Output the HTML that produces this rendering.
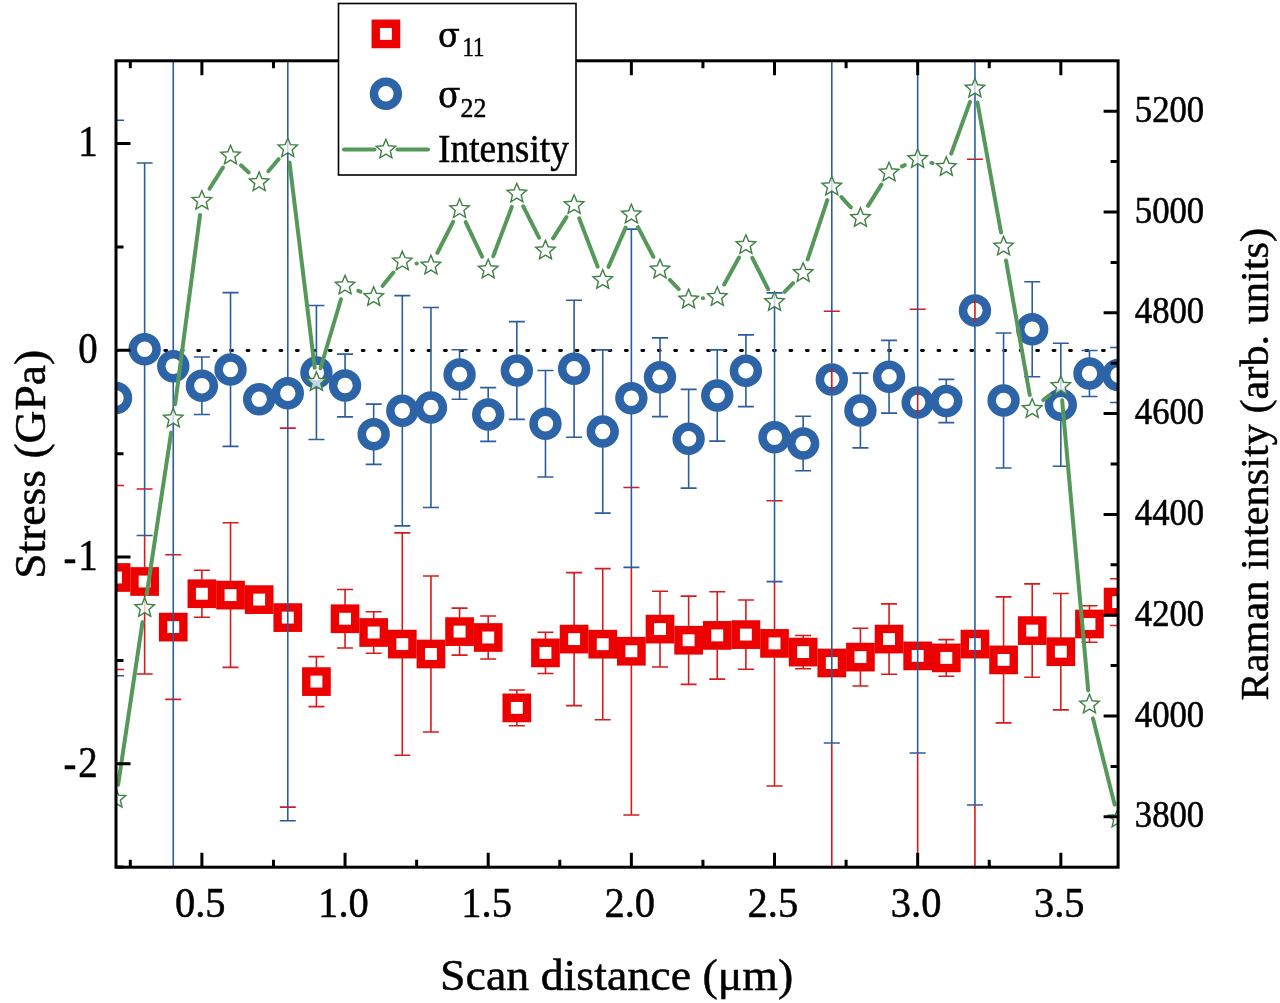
<!DOCTYPE html>
<html><head><meta charset="utf-8"><title>Stress and Raman intensity vs scan distance</title>
<style>html,body{margin:0;padding:0;background:#fff;}body{width:1280px;height:1003px;overflow:hidden;}svg{display:block;}text{font-family:"Liberation Serif","Times New Roman",serif;fill:#000;stroke:#000;stroke-width:0.5px;}</style>
</head><body>
<svg width="1280" height="1003" viewBox="0 0 1280 1003">
<defs><clipPath id="pa"><rect x="116.0" y="60.8" width="1002.10" height="806.40"/></clipPath></defs>
<rect x="0" y="0" width="1280" height="1003" fill="#fff"/>
<g clip-path="url(#pa)">
<line x1="115.45" y1="350.5" x2="1118.1" y2="350.5" stroke="#000" stroke-width="2.9" stroke-linecap="round" stroke-dasharray="1.9 14.55"/>
<g fill="#fff" stroke="#ec0000" stroke-width="8.4"><rect x="105.85" y="567.35" width="20.3" height="20.3"/><rect x="134.48" y="571.35" width="20.3" height="20.3"/><rect x="163.11" y="616.95" width="20.3" height="20.3"/><rect x="191.74" y="583.60" width="20.3" height="20.3"/><rect x="220.38" y="584.95" width="20.3" height="20.3"/><rect x="249.01" y="589.45" width="20.3" height="20.3"/><rect x="277.64" y="607.45" width="20.3" height="20.3"/><rect x="306.27" y="671.45" width="20.3" height="20.3"/><rect x="334.90" y="608.60" width="20.3" height="20.3"/><rect x="363.53" y="622.35" width="20.3" height="20.3"/><rect x="392.16" y="633.95" width="20.3" height="20.3"/><rect x="420.80" y="643.85" width="20.3" height="20.3"/><rect x="449.43" y="621.45" width="20.3" height="20.3"/><rect x="478.06" y="627.35" width="20.3" height="20.3"/><rect x="506.69" y="697.75" width="20.3" height="20.3"/><rect x="535.32" y="642.75" width="20.3" height="20.3"/><rect x="563.95" y="628.95" width="20.3" height="20.3"/><rect x="592.58" y="634.05" width="20.3" height="20.3"/><rect x="621.22" y="641.10" width="20.3" height="20.3"/><rect x="649.85" y="618.95" width="20.3" height="20.3"/><rect x="678.48" y="630.10" width="20.3" height="20.3"/><rect x="707.11" y="625.25" width="20.3" height="20.3"/><rect x="735.74" y="624.45" width="20.3" height="20.3"/><rect x="764.37" y="633.25" width="20.3" height="20.3"/><rect x="793.00" y="641.95" width="20.3" height="20.3"/><rect x="821.64" y="652.85" width="20.3" height="20.3"/><rect x="850.27" y="646.95" width="20.3" height="20.3"/><rect x="878.90" y="628.95" width="20.3" height="20.3"/><rect x="907.53" y="645.75" width="20.3" height="20.3"/><rect x="936.16" y="647.75" width="20.3" height="20.3"/><rect x="964.79" y="633.95" width="20.3" height="20.3"/><rect x="993.42" y="649.75" width="20.3" height="20.3"/><rect x="1022.06" y="620.45" width="20.3" height="20.3"/><rect x="1050.69" y="641.55" width="20.3" height="20.3"/><rect x="1079.32" y="613.85" width="20.3" height="20.3"/><rect x="1107.95" y="591.95" width="20.3" height="20.3"/></g>
<g fill="#fff" stroke="#2d64a8" stroke-width="8.5"><circle cx="116.00" cy="398.00" r="11.95"/><circle cx="144.63" cy="349.25" r="11.95"/><circle cx="173.26" cy="366.25" r="11.95"/><circle cx="201.89" cy="385.75" r="11.95"/><circle cx="230.53" cy="369.50" r="11.95"/><circle cx="259.16" cy="399.25" r="11.95"/><circle cx="287.79" cy="393.25" r="11.95"/><circle cx="316.42" cy="372.50" r="11.95"/><circle cx="345.05" cy="385.50" r="11.95"/><circle cx="373.68" cy="434.25" r="11.95"/><circle cx="402.31" cy="410.75" r="11.95"/><circle cx="430.95" cy="407.50" r="11.95"/><circle cx="459.58" cy="374.50" r="11.95"/><circle cx="488.21" cy="414.50" r="11.95"/><circle cx="516.84" cy="370.50" r="11.95"/><circle cx="545.47" cy="423.75" r="11.95"/><circle cx="574.10" cy="368.75" r="11.95"/><circle cx="602.73" cy="431.50" r="11.95"/><circle cx="631.37" cy="398.25" r="11.95"/><circle cx="660.00" cy="377.25" r="11.95"/><circle cx="688.63" cy="438.75" r="11.95"/><circle cx="717.26" cy="395.50" r="11.95"/><circle cx="745.89" cy="370.75" r="11.95"/><circle cx="774.52" cy="437.25" r="11.95"/><circle cx="803.15" cy="443.50" r="11.95"/><circle cx="831.79" cy="379.50" r="11.95"/><circle cx="860.42" cy="410.50" r="11.95"/><circle cx="889.05" cy="376.75" r="11.95"/><circle cx="917.68" cy="402.50" r="11.95"/><circle cx="946.31" cy="401.00" r="11.95"/><circle cx="974.94" cy="310.50" r="11.95"/><circle cx="1003.57" cy="400.50" r="11.95"/><circle cx="1032.21" cy="329.20" r="11.95"/><circle cx="1060.84" cy="404.80" r="11.95"/><circle cx="1089.47" cy="373.50" r="11.95"/><circle cx="1118.10" cy="375.00" r="11.95"/></g>
<g fill="none" stroke="#d81a1a" stroke-width="1.6"><path d="M108.00,485.50H124.00M108.00,669.50H124.00"/><path d="M144.63,535.55V567.75M144.63,595.25V674.00M136.63,489.00H152.63M136.63,674.00H152.63"/><path d="M165.26,554.80H181.26M165.26,699.40H181.26"/><path d="M201.89,570.25V580.00M201.89,607.50V617.25M193.89,570.25H209.89M193.89,617.25H209.89"/><path d="M230.53,522.80V581.35M230.53,608.85V667.40M222.53,522.80H238.53M222.53,667.40H238.53"/><path d="M279.79,428.10H295.79M279.79,807.10H295.79"/><path d="M316.42,656.60V667.85M316.42,695.35V706.60M308.42,656.60H324.42M308.42,706.60H324.42"/><path d="M345.05,589.55V605.00M345.05,632.50V647.95M337.05,589.55H353.05M337.05,647.95H353.05"/><path d="M373.68,611.70V618.75M373.68,646.25V653.30M365.68,611.70H381.68M365.68,653.30H381.68"/><path d="M402.31,532.90V630.35M402.31,657.85V755.30M394.31,532.90H410.31M394.31,755.30H410.31"/><path d="M430.95,576.00V640.25M430.95,667.75V732.00M422.95,576.00H438.95M422.95,732.00H438.95"/><path d="M459.58,608.10V617.85M459.58,645.35V655.10M451.58,608.10H467.58M451.58,655.10H467.58"/><path d="M488.21,616.00V623.75M488.21,651.25V659.00M480.21,616.00H496.21M480.21,659.00H496.21"/><path d="M516.84,690.00V694.15M516.84,721.65V725.80M508.84,690.00H524.84M508.84,725.80H524.84"/><path d="M545.47,632.30V639.15M545.47,666.65V673.50M537.47,632.30H553.47M537.47,673.50H553.47"/><path d="M574.10,572.60V625.35M574.10,652.85V705.60M566.10,572.60H582.10M566.10,705.60H582.10"/><path d="M602.73,568.60V630.45M602.73,657.95V719.80M594.73,568.60H610.73M594.73,719.80H610.73"/><path d="M631.37,567.35V637.50M631.37,665.00V814.95M623.37,487.55H639.37M623.37,814.95H639.37"/><path d="M660.00,591.20V615.35M660.00,642.85V667.00M652.00,591.20H668.00M652.00,667.00H668.00"/><path d="M688.63,596.15V626.50M688.63,654.00V684.35M680.63,596.15H696.63M680.63,684.35H696.63"/><path d="M717.26,591.70V621.65M717.26,649.15V679.10M709.26,591.70H725.26M709.26,679.10H725.26"/><path d="M745.89,600.00V620.85M745.89,648.35V669.20M737.89,600.00H753.89M737.89,669.20H753.89"/><path d="M774.52,581.65V629.65M774.52,657.15V786.00M766.52,500.80H782.52M766.52,786.00H782.52"/><path d="M803.15,635.50V638.35M803.15,665.85V668.70M795.15,635.50H811.15M795.15,668.70H811.15"/><path d="M831.79,367.85V391.15M831.79,743.00V1014.70M823.79,311.30H839.79M823.79,1014.70H839.79"/><path d="M860.42,628.20V643.35M860.42,670.85V686.00M852.42,628.20H868.42M852.42,686.00H868.42"/><path d="M889.05,603.90V625.35M889.05,652.85V674.30M881.05,603.90H897.05M881.05,674.30H897.05"/><path d="M917.68,390.85V414.15M917.68,753.00V1002.50M909.68,309.30H925.68M909.68,1002.50H925.68"/><path d="M946.31,639.60V644.15M946.31,671.65V676.20M938.31,639.60H954.31M938.31,676.20H954.31"/><path d="M974.94,298.85V322.15M974.94,805.00V1128.90M966.94,159.30H982.94M966.94,1128.90H982.94"/><path d="M1003.57,596.90V646.15M1003.57,673.65V722.90M995.57,596.90H1011.57M995.57,722.90H1011.57"/><path d="M1032.21,583.90V616.85M1032.21,644.35V677.30M1024.21,583.90H1040.21M1024.21,677.30H1040.21"/><path d="M1060.84,593.50V637.95M1060.84,665.45V709.90M1052.84,593.50H1068.84M1052.84,709.90H1068.84"/><path d="M1089.47,605.80V610.25M1089.47,637.75V642.20M1081.47,605.80H1097.47M1081.47,642.20H1097.47"/><path d="M1118.10,578.70V588.35M1118.10,615.85V625.50M1110.10,578.70H1126.10M1110.10,625.50H1126.10"/></g>
<path d="M116.00,382.30V386.35M116.00,409.65V413.70M144.63,333.55V337.60M144.63,360.90V364.95M173.26,350.55V354.60M173.26,377.90V381.95M201.89,370.05V374.10M201.89,397.40V401.45M230.53,353.80V357.85M230.53,381.15V385.20M287.79,377.55V381.60M287.79,404.90V408.95M316.42,356.80V360.85M316.42,384.15V388.20M345.05,369.80V373.85M345.05,397.15V401.20M373.68,418.55V422.60M373.68,445.90V449.95M402.31,395.05V399.10M402.31,422.40V426.45M430.95,391.80V395.85M430.95,419.15V423.20M459.58,358.80V362.85M459.58,386.15V390.20M488.21,398.80V402.85M488.21,426.15V430.20M516.84,354.80V358.85M516.84,382.15V386.20M545.47,408.05V412.10M545.47,435.40V439.45M574.10,353.05V357.10M574.10,380.40V384.45M602.73,415.80V419.85M602.73,443.15V447.20M631.37,382.55V386.60M631.37,409.90V413.95M660.00,361.55V365.60M660.00,388.90V392.95M688.63,423.05V427.10M688.63,450.40V454.45M717.26,379.80V383.85M717.26,407.15V411.20M745.89,355.05V359.10M745.89,382.40V386.45M774.52,421.55V425.60M774.52,448.90V452.95M803.15,427.80V431.85M803.15,455.15V459.20M831.79,363.80V367.85M831.79,391.15V395.20M860.42,394.80V398.85M860.42,422.15V426.20M889.05,361.05V365.10M889.05,388.40V392.45M917.68,386.80V390.85M917.68,414.15V418.20M946.31,385.30V389.35M946.31,412.65V416.70M974.94,294.80V298.85M974.94,322.15V326.20M1003.57,384.80V388.85M1003.57,412.15V416.20M1032.21,313.50V317.55M1032.21,340.85V344.90M1060.84,389.10V393.15M1060.84,416.45V420.50M1089.47,357.80V361.85M1089.47,385.15V389.20M1118.10,359.30V363.35M1118.10,386.65V390.70" fill="none" stroke="#2d64a8" stroke-width="1.6"/>
<g fill="none" stroke="#2b5d9e" stroke-width="1.6"><path d="M116.00,120.20V382.30M116.00,413.70V675.80M108.00,120.20H124.00M108.00,675.80H124.00"/><path d="M144.63,162.95V333.55M144.63,364.95V535.55M136.63,162.95H152.63M136.63,535.55H152.63"/><path d="M173.26,-333.75V350.55M173.26,381.95V1066.25M165.26,-333.75H181.26M165.26,1066.25H181.26"/><path d="M201.89,357.00V370.05M201.89,401.45V414.50M193.89,357.00H209.89M193.89,414.50H209.89"/><path d="M230.53,292.60V353.80M230.53,385.20V446.40M222.53,292.60H238.53M222.53,446.40H238.53"/><path d="M287.79,-34.25V377.55M287.79,408.95V820.75M279.79,-34.25H295.79M279.79,820.75H295.79"/><path d="M316.42,305.50V356.80M316.42,388.20V439.50M308.42,305.50H324.42M308.42,439.50H324.42"/><path d="M345.05,354.10V369.80M345.05,401.20V416.90M337.05,354.10H353.05M337.05,416.90H353.05"/><path d="M373.68,404.15V418.55M373.68,449.95V464.35M365.68,404.15H381.68M365.68,464.35H381.68"/><path d="M402.31,295.65V395.05M402.31,426.45V525.85M394.31,295.65H410.31M394.31,525.85H410.31"/><path d="M430.95,307.50V391.80M430.95,423.20V507.50M422.95,307.50H438.95M422.95,507.50H438.95"/><path d="M459.58,349.70V358.80M459.58,390.20V399.30M451.58,349.70H467.58M451.58,399.30H467.58"/><path d="M488.21,387.60V398.80M488.21,430.20V441.40M480.21,387.60H496.21M480.21,441.40H496.21"/><path d="M516.84,321.60V354.80M516.84,386.20V419.40M508.84,321.60H524.84M508.84,419.40H524.84"/><path d="M545.47,370.50V408.05M545.47,439.45V477.00M537.47,370.50H553.47M537.47,477.00H553.47"/><path d="M574.10,300.25V353.05M574.10,384.45V437.25M566.10,300.25H582.10M566.10,437.25H582.10"/><path d="M602.73,349.90V415.80M602.73,447.20V513.10M594.73,349.90H610.73M594.73,513.10H610.73"/><path d="M631.37,229.15V382.55M631.37,413.95V567.35M623.37,229.15H639.37M623.37,567.35H639.37"/><path d="M660.00,337.85V361.55M660.00,392.95V416.65M652.00,337.85H668.00M652.00,416.65H668.00"/><path d="M688.63,389.35V423.05M688.63,454.45V488.15M680.63,389.35H696.63M680.63,488.15H696.63"/><path d="M717.26,349.90V379.80M717.26,411.20V441.10M709.26,349.90H725.26M709.26,441.10H725.26"/><path d="M745.89,334.85V355.05M745.89,386.45V406.65M737.89,334.85H753.89M737.89,406.65H753.89"/><path d="M774.52,292.85V421.55M774.52,452.95V581.65M766.52,292.85H782.52M766.52,581.65H782.52"/><path d="M803.15,416.25V427.80M803.15,459.20V470.75M795.15,416.25H811.15M795.15,470.75H811.15"/><path d="M831.79,16.00V363.80M831.79,395.20V743.00M823.79,16.00H839.79M823.79,743.00H839.79"/><path d="M860.42,373.10V394.80M860.42,426.20V447.90M852.42,373.10H868.42M852.42,447.90H868.42"/><path d="M889.05,340.35V361.05M889.05,392.45V413.15M881.05,340.35H897.05M881.05,413.15H897.05"/><path d="M917.68,52.00V386.80M917.68,418.20V753.00M909.68,52.00H925.68M909.68,753.00H925.68"/><path d="M946.31,379.40V385.30M946.31,416.70V422.60M938.31,379.40H954.31M938.31,422.60H954.31"/><path d="M974.94,-184.00V294.80M974.94,326.20V805.00M966.94,-184.00H982.94M966.94,805.00H982.94"/><path d="M1003.57,333.00V384.80M1003.57,416.20V468.00M995.57,333.00H1011.57M995.57,468.00H1011.57"/><path d="M1032.21,281.70V313.50M1032.21,344.90V376.70M1024.21,281.70H1040.21M1024.21,376.70H1040.21"/><path d="M1060.84,343.30V389.10M1060.84,420.50V466.30M1052.84,343.30H1068.84M1052.84,466.30H1068.84"/><path d="M1089.47,350.50V357.80M1089.47,389.20V396.50M1081.47,350.50H1097.47M1081.47,396.50H1097.47"/><path d="M1118.10,347.50V359.30M1118.10,390.70V402.50M1110.10,347.50H1126.10M1110.10,402.50H1126.10"/></g>
<path d="M118.12,784.66L142.51,622.14M146.77,593.86L171.13,432.64M175.13,404.32L200.03,214.98M209.53,188.71L222.89,167.59M240.98,165.25L248.70,172.45M268.38,171.28L278.56,159.22M289.53,162.49L314.68,367.81M320.49,368.29L340.98,299.21M358.32,290.83L360.41,291.67M382.64,285.86L393.35,272.54M416.47,263.43L416.79,263.47M437.42,252.75L453.10,221.85M465.70,222.02L482.08,256.58M493.25,256.12L511.80,206.88M523.26,206.28L539.05,237.72M553.09,238.40L566.49,217.10M579.20,218.36L597.63,266.64M608.46,266.90L625.64,227.60M637.97,227.18L653.39,256.82M669.87,279.84L678.76,289.16M702.87,298.26L703.01,298.24M724.16,284.47L738.99,257.53M752.31,257.78L768.10,289.22M784.57,291.82L793.11,283.18M807.65,259.42L827.29,200.08M841.40,197.08L850.80,207.42M868.03,205.90L881.43,184.60M901.98,166.40L904.75,165.10M931.45,162.85L932.54,163.15M951.21,153.57L970.04,101.93M977.49,102.57L1001.02,232.43M1006.06,260.58L1029.72,394.92M1043.35,400.04L1049.69,394.96M1062.12,400.24L1088.19,690.26M1092.95,718.37L1114.62,804.63" fill="none" stroke="#55985a" stroke-width="4.0" stroke-linecap="round"/>
<g fill="#fff" fill-opacity="0.72" stroke="#3f8045" stroke-width="1.4" stroke-linejoin="miter"><path d="M116.00,788.55 L118.70,795.08 L125.75,795.63 L120.37,800.22 L122.02,807.09 L116.00,803.40 L109.98,807.09 L111.63,800.22 L106.25,795.63 L113.30,795.08 Z"/><path d="M144.63,597.75 L147.34,604.28 L154.38,604.83 L149.01,609.42 L150.66,616.29 L144.63,612.60 L138.61,616.29 L140.26,609.42 L134.88,604.83 L141.93,604.28 Z"/><path d="M173.26,408.25 L175.97,414.78 L183.01,415.33 L177.64,419.92 L179.29,426.79 L173.26,423.10 L167.24,426.79 L168.89,419.92 L163.51,415.33 L170.56,414.78 Z"/><path d="M201.89,190.55 L204.60,197.08 L211.64,197.63 L206.27,202.22 L207.92,209.09 L201.89,205.40 L195.87,209.09 L197.52,202.22 L192.15,197.63 L199.19,197.08 Z"/><path d="M230.53,145.25 L233.23,151.78 L240.27,152.33 L234.90,156.92 L236.55,163.79 L230.53,160.10 L224.50,163.79 L226.15,156.92 L220.78,152.33 L227.82,151.78 Z"/><path d="M259.16,171.95 L261.86,178.48 L268.91,179.03 L263.53,183.62 L265.18,190.49 L259.16,186.80 L253.13,190.49 L254.78,183.62 L249.41,179.03 L256.45,178.48 Z"/><path d="M287.79,138.05 L290.49,144.58 L297.54,145.13 L292.16,149.72 L293.81,156.59 L287.79,152.90 L281.76,156.59 L283.41,149.72 L278.04,145.13 L285.08,144.58 Z"/><path d="M316.42,371.75 L319.12,378.28 L326.17,378.83 L320.79,383.42 L322.44,390.29 L316.42,386.60 L310.40,390.29 L312.05,383.42 L306.67,378.83 L313.72,378.28 Z"/><path d="M345.05,275.25 L347.76,281.78 L354.80,282.33 L349.43,286.92 L351.08,293.79 L345.05,290.10 L339.03,293.79 L340.68,286.92 L335.30,282.33 L342.35,281.78 Z"/><path d="M373.68,286.75 L376.39,293.28 L383.43,293.83 L378.06,298.42 L379.71,305.29 L373.68,301.60 L367.66,305.29 L369.31,298.42 L363.93,293.83 L370.98,293.28 Z"/><path d="M402.31,251.15 L405.02,257.68 L412.06,258.23 L406.69,262.82 L408.34,269.69 L402.31,266.00 L396.29,269.69 L397.94,262.82 L392.57,258.23 L399.61,257.68 Z"/><path d="M430.95,255.25 L433.65,261.78 L440.69,262.33 L435.32,266.92 L436.97,273.79 L430.95,270.10 L424.92,273.79 L426.57,266.92 L421.20,262.33 L428.24,261.78 Z"/><path d="M459.58,198.85 L462.28,205.38 L469.33,205.93 L463.95,210.52 L465.60,217.39 L459.58,213.70 L453.55,217.39 L455.20,210.52 L449.83,205.93 L456.87,205.38 Z"/><path d="M488.21,259.25 L490.91,265.78 L497.96,266.33 L492.58,270.92 L494.23,277.79 L488.21,274.10 L482.18,277.79 L483.83,270.92 L478.46,266.33 L485.50,265.78 Z"/><path d="M516.84,183.25 L519.54,189.78 L526.59,190.33 L521.21,194.92 L522.86,201.79 L516.84,198.10 L510.82,201.79 L512.47,194.92 L507.09,190.33 L514.14,189.78 Z"/><path d="M545.47,240.25 L548.18,246.78 L555.22,247.33 L549.85,251.92 L551.50,258.79 L545.47,255.10 L539.45,258.79 L541.10,251.92 L535.72,247.33 L542.77,246.78 Z"/><path d="M574.10,194.75 L576.81,201.28 L583.85,201.83 L578.48,206.42 L580.13,213.29 L574.10,209.60 L568.08,213.29 L569.73,206.42 L564.35,201.83 L571.40,201.28 Z"/><path d="M602.73,269.75 L605.44,276.28 L612.48,276.83 L607.11,281.42 L608.76,288.29 L602.73,284.60 L596.71,288.29 L598.36,281.42 L592.99,276.83 L600.03,276.28 Z"/><path d="M631.37,204.25 L634.07,210.78 L641.11,211.33 L635.74,215.92 L637.39,222.79 L631.37,219.10 L625.34,222.79 L626.99,215.92 L621.62,211.33 L628.66,210.78 Z"/><path d="M660.00,259.25 L662.70,265.78 L669.75,266.33 L664.37,270.92 L666.02,277.79 L660.00,274.10 L653.97,277.79 L655.62,270.92 L650.25,266.33 L657.29,265.78 Z"/><path d="M688.63,289.25 L691.33,295.78 L698.38,296.33 L693.00,300.92 L694.65,307.79 L688.63,304.10 L682.60,307.79 L684.25,300.92 L678.88,296.33 L685.92,295.78 Z"/><path d="M717.26,286.75 L719.96,293.28 L727.01,293.83 L721.63,298.42 L723.28,305.29 L717.26,301.60 L711.24,305.29 L712.89,298.42 L707.51,293.83 L714.56,293.28 Z"/><path d="M745.89,234.75 L748.60,241.28 L755.64,241.83 L750.27,246.42 L751.92,253.29 L745.89,249.60 L739.87,253.29 L741.52,246.42 L736.14,241.83 L743.19,241.28 Z"/><path d="M774.52,291.75 L777.23,298.28 L784.27,298.83 L778.90,303.42 L780.55,310.29 L774.52,306.60 L768.50,310.29 L770.15,303.42 L764.77,298.83 L771.82,298.28 Z"/><path d="M803.15,262.75 L805.86,269.28 L812.90,269.83 L807.53,274.42 L809.18,281.29 L803.15,277.60 L797.13,281.29 L798.78,274.42 L793.41,269.83 L800.45,269.28 Z"/><path d="M831.79,176.25 L834.49,182.78 L841.53,183.33 L836.16,187.92 L837.81,194.79 L831.79,191.10 L825.76,194.79 L827.41,187.92 L822.04,183.33 L829.08,182.78 Z"/><path d="M860.42,207.75 L863.12,214.28 L870.17,214.83 L864.79,219.42 L866.44,226.29 L860.42,222.60 L854.39,226.29 L856.04,219.42 L850.67,214.83 L857.71,214.28 Z"/><path d="M889.05,162.25 L891.75,168.78 L898.80,169.33 L893.42,173.92 L895.07,180.79 L889.05,177.10 L883.02,180.79 L884.67,173.92 L879.30,169.33 L886.34,168.78 Z"/><path d="M917.68,148.75 L920.38,155.28 L927.43,155.83 L922.05,160.42 L923.70,167.29 L917.68,163.60 L911.66,167.29 L913.31,160.42 L907.93,155.83 L914.98,155.28 Z"/><path d="M946.31,156.75 L949.02,163.28 L956.06,163.83 L950.69,168.42 L952.34,175.29 L946.31,171.60 L940.29,175.29 L941.94,168.42 L936.56,163.83 L943.61,163.28 Z"/><path d="M974.94,78.25 L977.65,84.78 L984.69,85.33 L979.32,89.92 L980.97,96.79 L974.94,93.10 L968.92,96.79 L970.57,89.92 L965.19,85.33 L972.24,84.78 Z"/><path d="M1003.57,236.25 L1006.28,242.78 L1013.32,243.33 L1007.95,247.92 L1009.60,254.79 L1003.57,251.10 L997.55,254.79 L999.20,247.92 L993.83,243.33 L1000.87,242.78 Z"/><path d="M1032.21,398.75 L1034.91,405.28 L1041.95,405.83 L1036.58,410.42 L1038.23,417.29 L1032.21,413.60 L1026.18,417.29 L1027.83,410.42 L1022.46,405.83 L1029.50,405.28 Z"/><path d="M1060.84,375.75 L1063.54,382.28 L1070.59,382.83 L1065.21,387.42 L1066.86,394.29 L1060.84,390.60 L1054.81,394.29 L1056.46,387.42 L1051.09,382.83 L1058.13,382.28 Z"/><path d="M1089.47,694.25 L1092.17,700.78 L1099.22,701.33 L1093.84,705.92 L1095.49,712.79 L1089.47,709.10 L1083.44,712.79 L1085.09,705.92 L1079.72,701.33 L1086.76,700.78 Z"/><path d="M1118.10,808.25 L1120.80,814.78 L1127.85,815.33 L1122.47,819.92 L1124.12,826.79 L1118.10,823.10 L1112.08,826.79 L1113.73,819.92 L1108.35,815.33 L1115.40,814.78 Z"/></g>
</g>
<rect x="116.0" y="60.8" width="1002.10" height="806.40" fill="none" stroke="#000" stroke-width="3"/>
<path d="M130.32,867.2v-7.5M130.32,60.8v7.5M201.89,867.2v-14.5M201.89,60.8v14.5M273.47,867.2v-7.5M273.47,60.8v7.5M345.05,867.2v-14.5M345.05,60.8v14.5M416.63,867.2v-7.5M416.63,60.8v7.5M488.21,867.2v-14.5M488.21,60.8v14.5M559.79,867.2v-7.5M559.79,60.8v7.5M631.37,867.2v-14.5M631.37,60.8v14.5M702.94,867.2v-7.5M702.94,60.8v7.5M774.52,867.2v-14.5M774.52,60.8v14.5M846.10,867.2v-7.5M846.10,60.8v7.5M917.68,867.2v-14.5M917.68,60.8v14.5M989.26,867.2v-7.5M989.26,60.8v7.5M1060.84,867.2v-14.5M1060.84,60.8v14.5M116.0,867.10h7.5M116.0,763.74h14.5M116.0,660.38h7.5M116.0,557.02h14.5M116.0,453.66h7.5M116.0,350.30h14.5M116.0,246.94h7.5M116.0,143.58h14.5M1118.1,816.80h-14.5M1118.1,766.40h-7.5M1118.1,716.00h-14.5M1118.1,665.60h-7.5M1118.1,615.20h-14.5M1118.1,564.80h-7.5M1118.1,514.40h-14.5M1118.1,464.00h-7.5M1118.1,413.60h-14.5M1118.1,363.20h-7.5M1118.1,312.80h-14.5M1118.1,262.40h-7.5M1118.1,212.00h-14.5M1118.1,161.60h-7.5M1118.1,111.20h-14.5" stroke="#000" stroke-width="3" fill="none"/>
<text transform="translate(97.76,156.47) scale(0.9474,1.0707)" style='font-family:"Liberation Serif",serif' font-size="41" text-anchor="end">1</text>
<text transform="translate(97.76,363.19) scale(0.9474,1.0707)" style='font-family:"Liberation Serif",serif' font-size="41" text-anchor="end">0</text>
<text transform="translate(97.76,569.91) scale(0.9474,1.0707)" style='font-family:"Liberation Serif",serif' font-size="41" text-anchor="end"><tspan dy="1.59">-</tspan><tspan dx="2.11" dy="-1.59">1</tspan></text>
<text transform="translate(97.76,776.63) scale(0.9474,1.0707)" style='font-family:"Liberation Serif",serif' font-size="41" text-anchor="end"><tspan dy="1.59">-</tspan><tspan dx="2.11" dy="-1.59">2</tspan></text>
<text transform="translate(200.29,917.41) scale(0.9885,1.0484)" style='font-family:"Liberation Serif",serif' font-size="41" text-anchor="middle">0.5</text>
<text transform="translate(343.45,917.41) scale(0.9885,1.0484)" style='font-family:"Liberation Serif",serif' font-size="41" text-anchor="middle">1.0</text>
<text transform="translate(486.61,917.41) scale(0.9885,1.0484)" style='font-family:"Liberation Serif",serif' font-size="41" text-anchor="middle">1.5</text>
<text transform="translate(629.77,917.41) scale(0.9885,1.0484)" style='font-family:"Liberation Serif",serif' font-size="41" text-anchor="middle">2.0</text>
<text transform="translate(772.92,917.41) scale(0.9885,1.0484)" style='font-family:"Liberation Serif",serif' font-size="41" text-anchor="middle">2.5</text>
<text transform="translate(916.08,917.41) scale(0.9885,1.0484)" style='font-family:"Liberation Serif",serif' font-size="41" text-anchor="middle">3.0</text>
<text transform="translate(1059.24,917.41) scale(0.9885,1.0484)" style='font-family:"Liberation Serif",serif' font-size="41" text-anchor="middle">3.5</text>
<text transform="translate(1134.77,827.42) scale(1.0066,1.0744)" style='font-family:"Liberation Serif",serif' font-size="34.5">3800</text>
<text transform="translate(1134.77,726.62) scale(1.0066,1.0744)" style='font-family:"Liberation Serif",serif' font-size="34.5">4000</text>
<text transform="translate(1134.77,625.82) scale(1.0066,1.0744)" style='font-family:"Liberation Serif",serif' font-size="34.5">4200</text>
<text transform="translate(1134.77,525.02) scale(1.0066,1.0744)" style='font-family:"Liberation Serif",serif' font-size="34.5">4400</text>
<text transform="translate(1134.77,424.22) scale(1.0066,1.0744)" style='font-family:"Liberation Serif",serif' font-size="34.5">4600</text>
<text transform="translate(1134.77,323.42) scale(1.0066,1.0744)" style='font-family:"Liberation Serif",serif' font-size="34.5">4800</text>
<text transform="translate(1134.77,222.62) scale(1.0066,1.0744)" style='font-family:"Liberation Serif",serif' font-size="34.5">5000</text>
<text transform="translate(1134.77,121.82) scale(1.0066,1.0744)" style='font-family:"Liberation Serif",serif' font-size="34.5">5200</text>
<text transform="translate(440.00,990.35) scale(0.9977,0.9685)" style='font-family:"Liberation Serif",serif' font-size="46">Scan distance (μm)</text>
<text transform="translate(44.50,578.78) rotate(-90) scale(0.9903,0.9546)" style='font-family:"Liberation Serif",serif' font-size="46">Stress (GPa)</text>
<text transform="translate(1268.41,700.41) rotate(-90) scale(1.0082,0.9341)" style='font-family:"Liberation Serif",serif' font-size="42">Raman intensity (arb. units)</text>
<rect x="338.5" y="3.5" width="237.5" height="171.5" fill="#fff" stroke="#000" stroke-width="1.6"/>
<rect x="375.75" y="23.75" width="20.3" height="20.3" fill="none" stroke="#ec0000" stroke-width="8.4"/>
<circle cx="385.9" cy="93.7" r="11.95" fill="none" stroke="#2d64a8" stroke-width="8.5"/>
<path d="M344,149.5H374.5M397.5,149.5H428" stroke="#55985a" stroke-width="4.2" stroke-linecap="round"/>
<path d="M385.90,139.25 L388.60,145.78 L395.65,146.33 L390.27,150.92 L391.92,157.79 L385.90,154.10 L379.88,157.79 L381.53,150.92 L376.15,146.33 L383.20,145.78 Z" fill="#fff" stroke="#3f8045" stroke-width="1.4"/>
<text transform="translate(437.95,161.84) scale(0.9601,1.0026)" style='font-family:"Liberation Serif",serif' font-size="39">Intensity</text>
<text transform="translate(437.96,46.92) scale(0.9748,1.0252)" style='font-family:"DejaVu Serif",serif' font-size="33">σ</text>
<text transform="translate(462.41,56.27) scale(0.8728,1.0377)" style='font-family:"Liberation Serif",serif' font-size="26">11</text>
<text transform="translate(437.95,106.90) scale(1.0023,1.0453)" style='font-family:"DejaVu Serif",serif' font-size="33">σ</text>
<text transform="translate(460.59,116.99) scale(0.9935,1.0588)" style='font-family:"Liberation Serif",serif' font-size="26">22</text>
</svg>
</body></html>
